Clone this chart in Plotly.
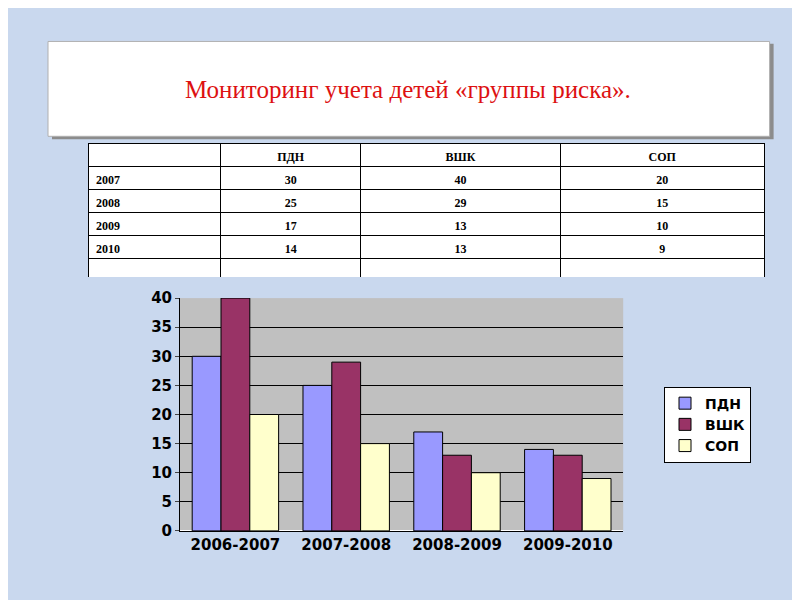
import plotly.graph_objects as go

periods = ["2006-2007", "2007-2008", "2008-2009", "2009-2010"]
years = ["2007", "2008", "2009", "2010", ""]
pdn = [30, 25, 17, 14]
vshk = [40, 29, 13, 13]
sop = [20, 15, 10, 9]
series = [("ПДН", pdn, "#9999ff"), ("ВШК", vshk, "#993366"), ("СОП", sop, "#ffffcc")]

fig = go.Figure()

tbl_cols = [years,
            [str(v) for v in pdn] + [""],
            [str(v) for v in vshk] + [""],
            [str(v) for v in sop] + [""]]
fig.add_trace(go.Table(
    domain=dict(x=[0.1, 0.946], y=[0.553, 0.782]),
    columnwidth=[133, 140, 200, 204],
    header=dict(values=["", "ПДН", "ВШК", "СОП"], fill_color="white",
                line_color="black", height=23, align="center",
                font=dict(family="Liberation Serif", size=12, color="black", weight="bold")),
    cells=dict(values=tbl_cols, fill_color="white", line_color="black", height=23,
               align=["left", "center", "center", "center"],
               font=dict(family="Liberation Serif", size=12, color="black", weight="bold")),
))

for name, vals, col in series:
    fig.add_trace(go.Bar(x=periods, y=vals, name=name, marker_color=col,
                         marker_line_color="black", marker_line_width=1))

fig.update_layout(
    width=800, height=600, margin=dict(l=0, r=0, t=0, b=0),
    paper_bgcolor="#c9d8ee", plot_bgcolor="#c0c0c0",
    barmode="group", bargap=0.22, bargroupgap=0.0,
    xaxis=dict(domain=[0.215, 0.769], showline=True, linecolor="black",
               tickfont=dict(family="DejaVu Sans", size=15, color="black", weight="bold")),
    yaxis=dict(domain=[0.117, 0.517], range=[0, 40], dtick=5, showgrid=True,
               gridcolor="black", gridwidth=1, showline=True, linecolor="black",
               ticks="outside", ticklen=4,
               tickfont=dict(family="DejaVu Sans", size=15, color="black", weight="bold")),
    legend=dict(x=0.82, y=0.365, xanchor="left", yanchor="top", bgcolor="white",
                bordercolor="black", borderwidth=1,
                font=dict(family="DejaVu Sans", size=14, color="black", weight="bold")),
    shapes=[
        dict(type="rect", xref="paper", yref="paper", x0=0.055, x1=0.957, y0=0.79, y1=0.954,
             fillcolor="#8c8c8c", line_width=0, layer="below"),
        dict(type="rect", xref="paper", yref="paper", x0=0.05, x1=0.952, y0=0.795, y1=0.958,
             fillcolor="white", line=dict(color="#b0b0b0", width=1), layer="below"),
    ],
    annotations=[dict(text="Мониторинг учета детей «группы риска».", xref="paper", yref="paper",
                      x=0.5, y=0.876, xanchor="center", yanchor="middle", showarrow=False,
                      font=dict(family="Liberation Serif", size=25, color="#dd1111"))],
)
fig.write_html("out.html")
